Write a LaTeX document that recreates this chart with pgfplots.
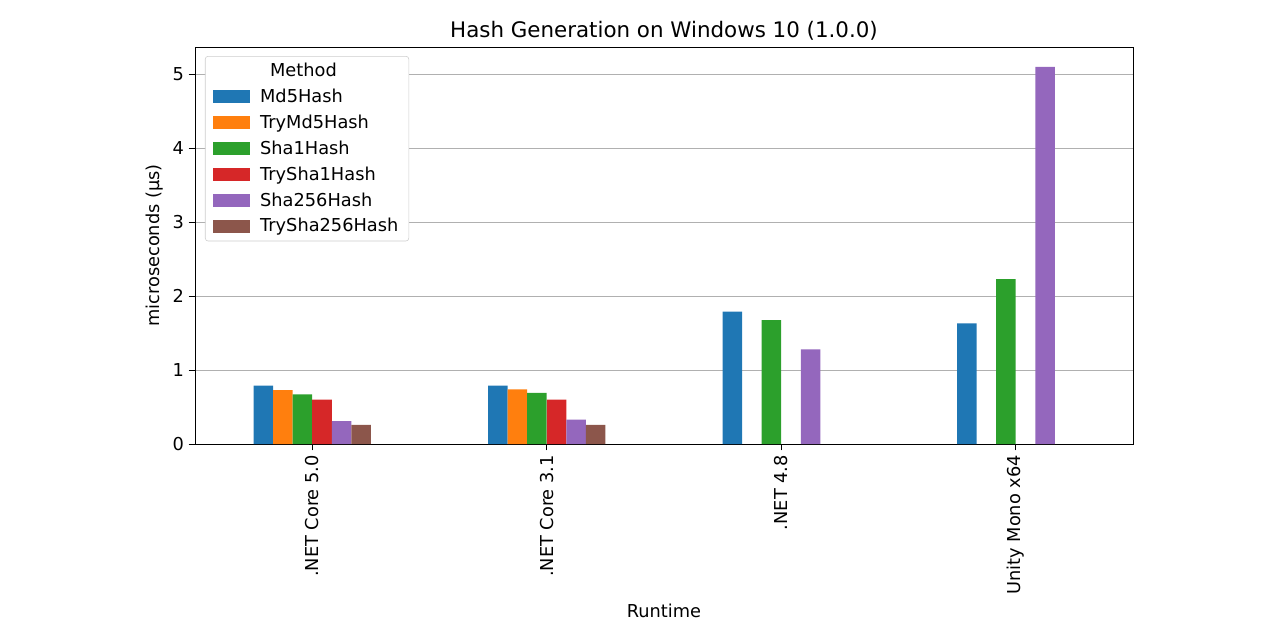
\documentclass[border=0pt]{standalone}
\usepackage{fontspec}
\setmainfont{DejaVu Sans}
\usepackage{pgfplots}
\pgfplotsset{compat=1.18}
\definecolor{c1}{HTML}{1F77B4}
\definecolor{c2}{HTML}{FF7F0E}
\definecolor{c3}{HTML}{2CA02C}
\definecolor{c4}{HTML}{D62728}
\definecolor{c5}{HTML}{9467BD}
\definecolor{c6}{HTML}{8C564B}
\definecolor{gridgray}{HTML}{B0B0B0}
\definecolor{leggray}{HTML}{CCCCCC}
\begin{document}
\begin{tikzpicture}
\useasboundingbox (-140.4pt,-141.12pt) rectangle (781.2pt,319.68pt);
\begin{axis}[
  scale only axis,
  width=675.36pt, height=285.84pt,
  xmin=-0.5, xmax=3.5, ymin=0, ymax=5.37,
  xtick={0,1,2,3},
  xticklabels={.NET Core 5.0,.NET Core 3.1,.NET 4.8,Unity Mono x64},
  ytick={0,1,2,3,4,5},
  tick pos=left, tick align=outside, major tick length=4.5pt,
  tick style={black, line width=0.7pt},
  axis line style={line width=0.7pt},
  ymajorgrids, grid style={gridgray, line width=0.7pt},
  /pgf/number format/assume math mode=true,
  tick label style={font=\fontsize{12.8}{15}\selectfont},
  xticklabel style={rotate=90, anchor=east},
  label style={font=\fontsize{12.8}{15}\selectfont},
  xlabel={Runtime},
  ylabel={microseconds (µs)},
  xlabel style={at={(axis description cs:0.5,0)}, anchor=center, yshift=-120.2pt},
  ylabel style={at={(axis description cs:0,0.5)}, anchor=center, yshift=28.8pt},
  title={Hash Generation on Windows 10 (1.0.0)},
  title style={font=\fontsize{15.4}{18}\selectfont, at={(axis description cs:0.5,1)}, anchor=base, inner sep=0pt, yshift=1.2pt},
  legend cell align=left,
  legend style={at={(axis description cs:0,1)}, anchor=north west, xshift=7.2pt, yshift=-6.5pt,
    draw=leggray, rounded corners=2pt, fill=white, font=\fontsize{12.8}{15}\selectfont,
    row sep=3.4pt, inner ysep=3pt, inner xsep=5.5pt},
  legend image code/.code={\fill[#1, sharp corners] (0pt,-4.7pt) rectangle (26.6pt,4.7pt); \path (32pt,0pt);},
]
\addlegendimage{legend image code/.code={}}
\addlegendentry{\hspace*{7.2pt}Method}
\addplot[ybar, bar width=0.08333, bar shift=-0.20833, fill=c1, draw=none] coordinates {
  (0,0.79) (1,0.79) (2,1.79) (3,1.63)
};
\addlegendentry{Md5Hash}
\addplot[ybar, bar width=0.08333, bar shift=-0.125, fill=c2, draw=none] coordinates {
  (0,0.73) (1,0.74)
};
\addlegendentry{TryMd5Hash}
\addplot[ybar, bar width=0.08333, bar shift=-0.04167, fill=c3, draw=none] coordinates {
  (0,0.67) (1,0.69) (2,1.675) (3,2.23)
};
\addlegendentry{Sha1Hash}
\addplot[ybar, bar width=0.08333, bar shift=0.04167, fill=c4, draw=none] coordinates {
  (0,0.60) (1,0.60)
};
\addlegendentry{TrySha1Hash}
\addplot[ybar, bar width=0.08333, bar shift=0.125, fill=c5, draw=none] coordinates {
  (0,0.31) (1,0.33) (2,1.28) (3,5.10)
};
\addlegendentry{Sha256Hash}
\addplot[ybar, bar width=0.08333, bar shift=0.20833, fill=c6, draw=none] coordinates {
  (0,0.26) (1,0.26)
};
\addlegendentry{TrySha256Hash}
\end{axis}
\end{tikzpicture}
\end{document}
